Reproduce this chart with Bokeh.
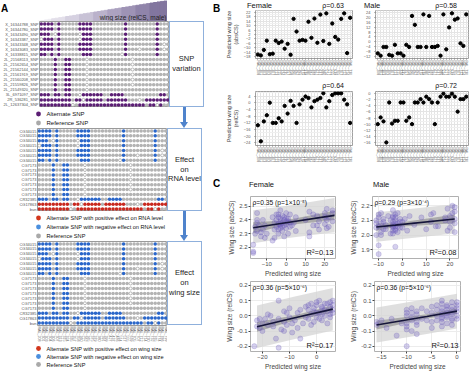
import math
from bokeh.plotting import figure
from bokeh.models import (Range1d, FactorRange, FixedTicker, Label, Div, Spacer,
                          NumeralTickFormatter, ColumnDataSource)
from bokeh.layouts import row, column
from bokeh.transform import linear_cmap
from bokeh.embed import file_html
from bokeh.resources import INLINE

FONT = "Liberation Sans"
CSSFONT = "font-family:'Liberation Sans',Arial,sans-serif;"

# ---------------- Panel A data ----------------
line_ids = ["208", "301", "303", "304", "306", "307", "313", "315", "324", "335",
            "357", "358", "360", "362", "365", "375", "379", "380", "391", "399",
            "427", "437", "486", "514", "517", "555", "639", "705", "707", "712",
            "714", "730", "732", "765", "774", "786", "799"]
snp_names = ["X_16344788_SNP", "X_16344780_SNP", "X_16343490_SNP", "X_16343387_SNP",
             "X_16343348_SNP", "X_16343083_SNP", "X_16338815_SNP", "2L_21568113_SNP",
             "2L_21562654_SNP", "2L_21562144_SNP", "2L_21561919_SNP", "2L_21560208_SNP",
             "2L_21559826_SNP", "2L_21549320_SNP", "3L_6971097_SNP", "2R_536281_SNP",
             "2L_12637304_SNP"]
gene_names = ["CG34015", "CG34015", "CG34015", "CG34015", "CG34015", "CG34015", "CG34015",
              "CG7173", "CG7173", "CG7173", "CG7173", "CG7173", "CG7173", "CG7173",
              "CR32385", "CG17863", "bun"]
# 1 = alternate allele, 0 = reference allele, 2 = missing
genotypes = [
    "1111010000" "0111100000" "0000100000" "0001000",
    "1111010000" "0111100000" "0000100000" "0001000",
    "1110210000" "0211100000" "0000100000" "0001000",
    "2111010000" "0211100000" "0000100000" "0001000",
    "1111010000" "0111100000" "0000100000" "0001020",
    "1111010000" "0111100000" "0000100020" "0001020",
    "1101010000" "0011100000" "0002100000" "0001000",
    "0000100110" "0002000000" "0000002000" "0000000",
    "0000100110" "0002000000" "0000002000" "0000000",
    "0000100110" "0002000000" "0000002000" "0000000",
    "0000100110" "0002000000" "0000002000" "0000000",
    "0000100110" "0002000000" "0000002000" "0000000",
    "0000100110" "0002000000" "0000002000" "0000000",
    "0000100110" "0002000000" "0000000000" "0000000",
    "1110110110" "0211111100" "1111000000" "0000110",
    "1111111110" "1121111101" "1111100020" "1111111",
    "1111111112" "0111111111" "1111111111" "0112100",
]
snp_effect = ["alt"] * 17
rna_effect = ["neg", "neg", "neg", "neg", "neg", "neg", "neg",
              "neg", "neg", "neg", "neg", "neg", "neg", "neg",
              "neg", "pos", "pos"]
wing_effect = ["neg"] * 17
wedge_vals = [-0.160, -0.152, -0.145, -0.138, -0.131, -0.124, -0.117, -0.110, -0.103, -0.096,
              -0.089, -0.082, -0.075, -0.068, -0.061, -0.054, -0.047, -0.040, -0.033, -0.026,
              -0.019, -0.012, -0.005, 0.002, 0.009, 0.016, 0.023, 0.030, 0.037, 0.044,
              0.051, 0.058, 0.065, 0.072, 0.079, 0.086, 0.093]
wedge_palette = ["#efedf3", "#e3dfea", "#d6d1e1", "#c8c2d6", "#bab2cb",
                 "#aca2c0", "#9e93b5", "#9084aa", "#82769f"]

legend1_labels = ["Alternate SNP", "Reference SNP"]
legend1_colors = ["#5b1e74", "#a9a9a9"]
legend2_labels = ["Alternate SNP with positive effect on RNA level",
                  "Alternate SNP with negative effect on RNA level", "Reference SNP"]
legend3_labels = ["Alternate SNP with positive effect on wing size",
                  "Alternate SNP with negative effect on wing size", "Reference SNP"]
legend23_colors = ["#d2361c", "#4b8fde", "#a9a9a9"]

# ---------------- Panel B data ----------------
b_lines = ["208", "301", "303", "304", "306", "307", "313", "315", "324", "335",
           "357", "358", "360", "362", "365", "375", "379", "380", "391", "399",
           "427", "437", "486", "514", "517", "555", "639", "705", "707", "712",
           "714", "730"]
pred_abs_f = [-16.2, -17.0, -12.0, -3.6, -15.9, -15.4, -3.6, -5.7, -4.4, -10.9,
              -6.5, -16.4, 16.2, 4.7, -3.6, -2.9, -3.6, 13.6, -1.0, 16.5,
              -5.5, 20.1, -3.9, 21.2, -6.5, 12.0, -0.2, -2.6, 16.2, 21.2, -14.9, 17.2]
pred_abs_m = [-9.4, -11.3, -4.2, -4.2, -10.6, -11.3, -2.4, -9.4, -9.4, -11.3,
              -2.4, -4.2, 21.2, 13.9, -4.2, -4.2, 22.4, -4.2, 21.2, -4.2,
              -4.2, -3.3, -11.3, 22.4, -6.1, 11.8, 23.3, 18.1, 19.1, -1.2, -3.3, 22.4]
pred_rel_f = [-13.4, -23.0, -11.1, -7.4, 0.1, -12.0, -12.0, -9.2, -11.1, -1.8,
              -6.4, 1.2, -1.8, -12.0, -0.9, 1.9, 3.8, 2.9, -2.7, 1.0,
              1.9, 2.9, 5.7, -2.7, 1.0, 4.7, 5.7, 5.7, 5.7, 1.9, -0.9, -12.0]
pred_rel_m = [-10.0, -7.8, -9.1, -16.0, -2.9, -9.8, -8.9, -8.9, -2.9, -2.9,
              -8.9, -7.8, -10.0, -2.9, -2.9, -1.8, -2.9, -1.0, -1.8, -2.9,
              -10.0, -2.9, -1.0, 0.0, -1.0, -1.0, 0.0, -1.0, -5.9, -1.8, -1.8, -1.0]

# ---------------- Panel C data ----------------
c_abs_f_x = [-17, -17, -16, -16, -15, -15, -15, -13, -12, -12, -11, -10, -7, -7, -6, -6, -5, -5,
             -4, -4, -4, -3, -3, -3, -3, -2, -2, -1, -1, -1, 0, 0, 0, 1, 1, 2, 2, 3, 5, 5,
             10, 12, 12, 14, 16, 17, 17, 20, 20, 21, 21, 22, 22, 24, 24,
             -17, -15, -14, -13, -11, -6, -5, -4, -4, -3, -3, -2, -2, -1, 0, 0, 1, 2, 4,
             12, 14, 16, 20, 21, 24]
c_abs_f_y = [2.16, 2.17, 2.35, 2.30, 2.38, 2.45, 2.32, 2.28, 2.40, 2.33, 2.36, 2.30, 2.42, 2.25,
             2.38, 2.27, 2.35, 2.40, 2.44, 2.37, 2.33, 2.39, 2.41, 2.36, 2.47, 2.38, 2.35, 2.40,
             2.42, 2.28, 2.37, 2.39, 2.34, 2.41, 2.30, 2.38, 2.44, 2.36, 2.32, 2.42, 2.40, 2.28,
             2.46, 2.36, 2.43, 2.39, 2.33, 2.45, 2.37, 2.40, 2.48, 2.35, 2.42, 2.47, 2.39,
             2.22, 2.40, 2.36, 2.31, 2.27, 2.33, 2.44, 2.30, 2.42, 2.34, 2.37, 2.43, 2.32,
             2.36, 2.45, 2.41, 2.39, 2.35, 2.38, 2.31, 2.44, 2.36, 2.42, 2.34, 2.45]
c_abs_m_x = [-11, -11, -11, -10, -10, -10, -10, -9, -9, -9, -8, -8, -7, -6, -5, -4, -4, -4, -4,
             -4, -4, -3, -3, -3, -3, -3, -2, -2, -1, -1, 0, 2, 3, 5, 8, 10, 12, 13, 15, 18, 19,
             20, 20, 21, 22, 22, 22,
             -11, -10, -9, -8, -7, -5, -4, -4, -4, -3, -3, -3, -2, -2, -1, 0, 1, 12, 14, 18,
             20, 21, 22, 22, 19]
c_abs_m_y = [2.05, 2.10, 2.00, 1.87, 1.93, 2.06, 2.12, 2.02, 2.08, 2.15, 2.04, 2.11, 2.07, 2.13,
             2.01, 2.05, 2.09, 2.12, 2.03, 2.17, 2.07, 1.92, 2.04, 2.10, 2.14, 2.06, 2.08, 2.02,
             2.11, 2.05, 2.09, 2.03, 2.13, 2.07, 2.12, 2.04, 2.09, 2.15, 2.06, 2.10, 2.18, 2.05,
             2.13, 2.20, 2.08, 2.16, 2.02,
             2.08, 2.14, 2.00, 2.09, 2.04, 2.10, 2.06, 2.13, 2.01, 2.08, 2.12, 2.03, 2.15,
             2.06, 2.09, 2.05, 2.11, 2.14, 2.06, 2.12, 2.09, 2.15, 2.11, 2.19, 2.03]
c_rel_f_x = [-23, -22, -22, -21, -20, -19, -18, -17, -16, -15, -14, -14, -13, -12, -12, -11,
             -10, -10, -9, -8, -7, -6, -5, -4, -3, -3, -2, -2, -1, -1, 0, 0, 1, 1, 2, 2, 3, 3,
             4, 4, 5, 5, 6, 6,
             -21, -20, -18, -16, -14, -12, -11, -9, -7, -6, -4, -3, -2, -1, 0, 0, 1, 2, 2, 3,
             4, 5, 5, 6, 6]
c_rel_f_y = [-0.20, -0.07, -0.03, -0.08, -0.05, -0.02, -0.06, 0.00, -0.04, -0.15, -0.21, 0.10,
             -0.09, -0.04, 0.03, -0.06, -0.01, 0.05, -0.11, -0.03, 0.02, -0.15, -0.05, 0.06,
             -0.02, 0.04, 0.01, 0.08, -0.04, 0.03, 0.07, -0.01, 0.02, 0.10, -0.03, 0.05, 0.00,
             0.08, 0.03, -0.05, 0.06, 0.01, 0.10, 0.04,
             -0.02, -0.10, 0.01, -0.07, -0.02, -0.10, 0.02, -0.05, -0.08, 0.04, -0.01, 0.07,
             -0.06, 0.05, 0.02, 0.09, -0.02, 0.06, 0.01, 0.04, 0.08, -0.01, 0.09, 0.02, 0.07]
c_rel_m_x = [-16, -16, -13, -12, -10, -10, -10, -10, -10, -9, -9, -9, -9, -8, -8, -8, -7, -6,
             -5, -5, -5, -4, -4, -3, -3, -3, -3, -3, -3, -2, -2, -2, -2, -1, -1, -1, -1, -1,
             0, 0, 0,
             -15, -14, -11, -10, -10, -9, -8, -8, -7, -6, -5, -4, -4, -3, -3, -3, -2, -2, -2,
             -1, -1, -1, 0, 0, 0]
c_rel_m_y = [-0.06, -0.04, -0.02, -0.13, -0.20, -0.05, 0.00, 0.04, -0.09, -0.03, 0.02, -0.10,
             0.05, -0.06, 0.01, -0.12, -0.02, 0.03, -0.04, 0.06, -0.08, 0.00, 0.07, -0.07,
             -0.02, 0.03, 0.08, -0.04, 0.01, -0.05, 0.02, 0.06, -0.01, -0.03, 0.04, 0.09, 0.01,
             -0.06, 0.03, 0.07, -0.02,
             -0.03, -0.08, -0.05, -0.07, 0.02, -0.01, -0.04, 0.03, 0.05, -0.03, 0.02, -0.03,
             0.04, -0.01, 0.05, 0.10, 0.00, 0.04, 0.07, 0.06, -0.02, 0.02, 0.00, 0.05, 0.09]

fit_abs_f = dict(x=[-17, -1, 25], y=[2.343, 2.378, 2.433], ci_lo=[2.303, 2.360, 2.400],
                 ci_hi=[2.383, 2.396, 2.466], pi_lo=[2.23, 2.265, 2.31], pi_hi=[2.47, 2.50, 2.56])
fit_abs_m = dict(x=[-11, -3, 22], y=[2.055, 2.068, 2.11], ci_lo=[2.030, 2.055, 2.080],
                 ci_hi=[2.080, 2.081, 2.140], pi_lo=[1.955, 1.968, 2.010], pi_hi=[2.155, 2.168, 2.210])
fit_rel_f = dict(x=[-22, -8, 6], y=[-0.072, -0.013, 0.044], ci_lo=[-0.105, -0.030, 0.020],
                 ci_hi=[-0.040, 0.004, 0.068], pi_lo=[-0.212, -0.153, -0.096], pi_hi=[0.068, 0.127, 0.184])
fit_rel_m = dict(x=[-16, -6, 0], y=[-0.061, -0.004, 0.031], ci_lo=[-0.090, -0.018, 0.013],
                 ci_hi=[-0.032, 0.011, 0.050], pi_lo=[-0.176, -0.119, -0.084], pi_hi=[0.054, 0.111, 0.146])

COL = {"alt": "#5b1e74", "pos": "#c8281e", "neg": "#2a66c9", "ref": "#b3b3b3"}


def label(p, text, x, y, size, align="left", baseline="bottom", color="#111111"):
    p.add_layout(Label(x=x, y=y, x_units="screen", y_units="screen", text=text,
                       text_font=FONT, text_font_size=size, text_align=align,
                       text_baseline=baseline, text_color=color))


def text_band(width, height, items):
    spans = []
    for t, x, y, size, anchor in items:
        side = "left" if anchor == "left" else "right"
        pos = x if anchor == "left" else width - x
        spans.append('<span style="position:absolute;%s:%spx;top:%spx;font-size:%s;'
                     'line-height:1;white-space:nowrap;color:#111">%s</span>' % (side, pos, y, size, t))
    html = ('<div style="position:relative;width:%dpx;height:%dpx;%s">%s</div>'
            % (width, height, CSSFONT, "".join(spans)))
    return Div(text=html, width=width, height=height, margin=0)


# ---------------- Panel A figures ----------------
def header_fig():
    p = figure(frame_width=130, frame_height=21, min_border_left=0, min_border_right=0,
               min_border_top=0, min_border_bottom=0,
               x_range=Range1d(-0.5, len(line_ids) - 0.5), y_range=Range1d(-0.165, 0.097),
               x_axis_location=None, y_axis_location=None,
               output_backend="svg", toolbar_location=None)
    p.grid.visible = False
    p.outline_line_color = None
    src = ColumnDataSource(dict(x=list(range(len(wedge_vals))), top=wedge_vals))
    cmap = linear_cmap("top", wedge_palette, min(wedge_vals), max(wedge_vals))
    p.vbar(x="x", top="top", bottom=-0.165, width=1.0, source=src,
           fill_color=cmap, line_color=cmap)
    label(p, "wing size (relCS, male)", 129, 1, "6.5px", align="right", color="#222222")
    return p


def matrix_fig(row_labels, effects, frame_h, bottom_axis=False):
    p = figure(frame_width=130, frame_height=frame_h, min_border_left=37, min_border_right=0,
               min_border_top=0, min_border_bottom=0,
               x_range=Range1d(-0.5, len(line_ids) - 0.5),
               y_range=Range1d(len(row_labels) - 0.5, -0.5),
               x_axis_location="below" if bottom_axis else None,
               output_backend="svg", toolbar_location=None)
    p.grid.visible = False
    p.outline_line_color = "#9a9a9a"
    p.yaxis.ticker = FixedTicker(ticks=list(range(len(row_labels))))
    p.yaxis.major_label_overrides = {i: t for i, t in enumerate(row_labels)}
    p.yaxis.axis_line_color = None
    p.yaxis.major_tick_line_color = None
    p.yaxis.major_tick_out = 0
    p.yaxis.minor_tick_line_color = None
    p.yaxis.major_label_standoff = 1
    p.yaxis.major_label_text_font = FONT
    p.yaxis.major_label_text_font_size = "4px"
    p.yaxis.major_label_text_color = "#555555"
    if bottom_axis:
        p.xaxis.ticker = FixedTicker(ticks=list(range(len(line_ids))))
        p.xaxis.major_label_overrides = {i: "RAL_" + t for i, t in enumerate(line_ids)}
        p.xaxis.major_label_orientation = "vertical"
        p.xaxis.axis_line_color = None
        p.xaxis.major_tick_line_color = None
        p.xaxis.major_tick_out = 0
        p.xaxis.minor_tick_line_color = None
        p.xaxis.major_label_standoff = 1
        p.xaxis.major_label_text_font = FONT
        p.xaxis.major_label_text_font_size = "3.6px"
        p.xaxis.major_label_text_color = "#666666"
    data = {k: {"x": [], "y": []} for k in ("alt", "pos", "neg", "ref", "na")}
    for r, g in enumerate(genotypes):
        for c, ch in enumerate(g[:len(line_ids)]):
            key = effects[r] if ch == "1" else ("ref" if ch == "0" else "na")
            data[key]["x"].append(c)
            data[key]["y"].append(r)
    for k in ("ref", "alt", "pos", "neg"):
        if data[k]["x"]:
            p.scatter(x=data[k]["x"], y=data[k]["y"], size=3.5,
                      fill_color=COL[k], line_color=None)
    p.scatter(x=data["na"]["x"], y=data["na"]["y"], size=3.0,
              fill_color="white", line_color="#9a9a9a", line_width=0.7)
    return p


def legend_fig(labels, colors, frame_h, mbt, mbb, font):
    p = figure(width=178, frame_height=frame_h, min_border_left=34, min_border_right=136,
               min_border_top=mbt, min_border_bottom=mbb,
               x_range=Range1d(-1, 1), y_range=FactorRange(factors=labels[::-1], range_padding=0),
               x_axis_location=None, y_axis_location="right",
               output_backend="svg", toolbar_location=None)
    p.grid.visible = False
    p.outline_line_color = None
    p.yaxis.axis_line_color = None
    p.yaxis.major_tick_line_color = None
    p.yaxis.major_tick_out = 0
    p.yaxis.major_label_standoff = 4
    p.yaxis.major_label_text_font = FONT
    p.yaxis.major_label_text_font_size = font
    p.yaxis.major_label_text_color = "#111111"
    p.scatter(x=[0] * len(labels), y=labels, size=4.8, fill_color=colors, line_color=None)
    return p


def box_div(text, h):
    html = ('<div style="box-sizing:border-box;width:35px;height:%dpx;border:1px solid #8fb0dc;'
            'display:flex;align-items:center;justify-content:center;text-align:center;%s'
            'font-size:7.5px;line-height:1.3;color:#222">%s</div>' % (h, CSSFONT, text))
    return Div(text=html, width=35, height=h, margin=0)


def arrow_div(h):
    html = ('<div style="position:relative;width:24px;height:%dpx">'
            '<div style="position:absolute;left:5px;top:0;width:3px;height:%dpx;background:#4f83cc"></div>'
            '<div style="position:absolute;left:2px;top:%dpx;width:0;height:0;'
            'border-left:4.5px solid transparent;border-right:4.5px solid transparent;'
            'border-top:6px solid #4f83cc"></div></div>' % (h, h - 5, h - 6))
    return Div(text=html, width=24, height=h, margin=0)


letter_a = Div(text='<div style="%sfont-weight:bold;font-size:10px;line-height:10px;padding-left:1px">A</div>'
               % CSSFONT, width=37, height=21, margin=0)

m1 = matrix_fig(snp_names, snp_effect, 86)
m2 = matrix_fig(gene_names, rna_effect, 83)
m3 = matrix_fig(gene_names, wing_effect, 84, bottom_axis=True)
l1 = legend_fig(legend1_labels, legend1_colors, 18, 2, 1, "6px")
l2 = legend_fig(legend2_labels, legend23_colors, 27, 2, 1, "5.6px")
l3 = legend_fig(legend3_labels, legend23_colors, 24, 0, 0, "5.6px")

colA = column(
    row(letter_a, header_fig(), Spacer(width=43, height=21, margin=0)),
    row(m1, box_div("SNP<br>variation", 86)),
    row(l1, arrow_div(21)),
    row(m2, box_div("Effect<br>on<br>RNA level", 83)),
    row(l2, arrow_div(30)),
    row(m3, box_div("Effect<br>on<br>wing size", 84)),
    l3,
)


# ---------------- Panel B figures ----------------
def b_fig(vals, yr, ticks, fw, fh, mbl, mbr, mbt, mbb, ylabel=None):
    p = figure(frame_width=fw, frame_height=fh, min_border_left=mbl, min_border_right=mbr,
               min_border_top=mbt, min_border_bottom=mbb,
               x_range=Range1d(-0.8, len(vals) - 0.2), y_range=Range1d(*yr),
               output_backend="svg", toolbar_location=None)
    p.outline_line_color = "#a0a0a0"
    step = ticks[1] - ticks[0]
    p.yaxis.ticker = FixedTicker(ticks=ticks, minor_ticks=[t + step / 2 for t in ticks])
    p.xaxis.ticker = FixedTicker(ticks=list(range(len(vals))))
    p.xaxis.major_label_overrides = {i: "RAL_" + b_lines[i] for i in range(len(vals))}
    p.xaxis.major_label_orientation = "vertical"
    for ax in (p.xaxis[0], p.yaxis[0]):
        ax.axis_line_color = None
        ax.major_tick_line_color = "#777777"
        ax.major_tick_in = 0
        ax.major_tick_out = 1
        ax.minor_tick_line_color = None
        ax.major_label_standoff = 1
        ax.major_label_text_font = FONT
        ax.major_label_text_color = "#555555"
    p.xaxis.major_label_text_font_size = "3.5px"
    p.yaxis.major_label_text_font_size = "4px"
    p.xgrid.grid_line_color = "#e4e4e4"
    p.ygrid.grid_line_color = "#e4e4e4"
    p.ygrid.minor_grid_line_color = "#efefef"
    if ylabel:
        p.yaxis.axis_label = ylabel
        p.yaxis.axis_label_text_font = FONT
        p.yaxis.axis_label_text_font_size = "5.5px"
        p.yaxis.axis_label_text_font_style = "normal"
        p.yaxis.axis_label_standoff = 2
    p.scatter(x=list(range(len(vals))), y=vals, size=3.3, color="black")
    return p


bfa = b_fig(pred_abs_f, (-19.8, 23.8), [-18, -14, -10, -6, -2, 2, 6, 10, 14, 18, 22],
            97, 48, 25, 8, 0, 18, "Predicted wing size\n(absCS)")
bma = b_fig(pred_abs_m, (-13.6, 25.6), [-12, -8, -4, 0, 4, 8, 12, 16, 20, 24],
            93, 48, 12, 1, 0, 18)
bfr = b_fig(pred_rel_f, (-25.5, 6.8), [-24, -20, -16, -12, -8, -4, 0, 4],
            97, 54, 25, 8, 0, 19, "Predicted wing size\n(relCS)")
bmr = b_fig(pred_rel_m, (-17.0, 0.7), [-16, -14, -12, -10, -8, -6, -4, -2, 0],
            93, 54, 12, 1, 0, 19)


# ---------------- Panel C figures ----------------
def c_fig(xs, ys, fit, xr, yr, xt, yt, rho, r2, fw, fh, mbl, mbr, mbt, mbb, ylabel):
    p = figure(frame_width=fw, frame_height=fh, min_border_left=mbl, min_border_right=mbr,
               min_border_top=mbt, min_border_bottom=mbb,
               x_range=Range1d(*xr), y_range=Range1d(*yr),
               output_backend="svg", toolbar_location=None)
    p.outline_line_color = "#b0b0b0"
    p.xaxis.ticker = FixedTicker(ticks=xt)
    p.yaxis.ticker = FixedTicker(ticks=yt)
    p.yaxis.formatter = NumeralTickFormatter(format="0.0")
    for ax in (p.xaxis[0], p.yaxis[0]):
        ax.axis_line_color = None
        ax.major_tick_line_color = "#444444"
        ax.major_tick_in = 0
        ax.major_tick_out = 2
        ax.minor_tick_line_color = None
        ax.major_label_standoff = 1
        ax.major_label_text_font = FONT
        ax.major_label_text_font_size = "6px"
        ax.major_label_text_color = "#4d4d4d"
        ax.axis_label_text_font = FONT
        ax.axis_label_text_font_size = "6.5px"
        ax.axis_label_text_font_style = "normal"
        ax.axis_label_standoff = 1
    p.xaxis.axis_label = "Predicted wing size"
    p.yaxis.axis_label = ylabel
    p.xgrid.grid_line_color = "#ececec"
    p.ygrid.grid_line_color = "#ececec"
    src = ColumnDataSource(fit)
    p.varea(x="x", y1="pi_lo", y2="pi_hi", source=src, fill_color="#d4d4d4", fill_alpha=0.75)
    p.varea(x="x", y1="ci_lo", y2="ci_hi", source=src, fill_color="#9a9a9a", fill_alpha=0.75)
    n = min(len(xs), len(ys))
    p.scatter(x=xs[:n], y=ys[:n], size=5.2, fill_color="#7563c6", fill_alpha=0.3,
              line_color="#5a4aa8", line_alpha=0.3, line_width=0.6)
    p.line(x="x", y="y", source=src, line_color="#15153a", line_width=1.6)
    label(p, rho, 2, fh - 2, "6.7px", baseline="top")
    label(p, r2, fw - 2, 2, "7.5px", align="right")
    return p


cfa = c_fig(c_abs_f_x, c_abs_f_y, fit_abs_f, (-18.4, 25.5), (2.12, 2.57), [-10, 0, 10, 20],
            [2.2, 2.3, 2.4, 2.5], "\u03c1=0.35 (p=1\u00d710\u207b\u2075)", "R\u00b2=0.13",
            85, 62, 28, 12, 0, 20, "Wing size (absCS)")
cma = c_fig(c_abs_m_x, c_abs_m_y, fit_abs_m, (-12.6, 23.6), (1.84, 2.263), [-10, 0, 10, 20],
            [1.9, 2.0, 2.1, 2.2], "\u03c1=0.29 (p=3\u00d710\u207b\u2074)", "R\u00b2=0.08",
            86, 62, 24, 1, 0, 20, "Wing size (absCS)")
cfr = c_fig(c_rel_f_x, c_rel_f_y, fit_rel_f, (-24.4, 7.0), (-0.235, 0.226), [-20, -10, 0],
            [-0.2, -0.1, 0.0, 0.1, 0.2], "\u03c1=0.36 (p=5\u00d710\u207b\u2076)", "R\u00b2=0.17",
            85, 70, 28, 12, 2, 20, "Wing size (relCS)")
cmr = c_fig(c_rel_m_x, c_rel_m_y, fit_rel_m, (-16.4, 0.7), (-0.235, 0.226), [-15, -10, -5, 0],
            [-0.2, -0.1, 0.0, 0.1, 0.2], "\u03c1=0.36 (p=5\u00d710\u207b\u2076)", "R\u00b2=0.13",
            86, 70, 24, 1, 2, 20, "Wing size (relCS)")

band_b1 = text_band(236, 10, [("Female", 25, 0, "7.5px", "left"),
                              ("\u03c1=0.63", 122, 0, "7px", "right"),
                              ("Male", 142, 0, "7.5px", "left"),
                              ("\u03c1=0.58", 235, 0, "7px", "right")])
band_b2 = text_band(236, 13, [("\u03c1=0.64", 122, 4, "7px", "right"),
                              ("\u03c1=0.72", 235, 4, "7px", "right")])
band_c = text_band(236, 31, [("Female", 27, 16, "7.5px", "left"),
                             ("Male", 151, 16, "7.5px", "left")])


def letter_div(t, h, top):
    html = ('<div style="%sfont-weight:bold;font-size:10px;padding-left:3px;padding-top:%dpx;'
            'line-height:10px">%s</div>' % (CSSFONT, top, t))
    return Div(text=html, width=12, height=h, margin=0)


strip = column(letter_div("B", 175, 0), letter_div("C", 192, 2))
colBC = column(band_b1, row(bfa, bma), band_b2, row(bfr, bmr), band_c, row(cfa, cma), row(cfr, cmr))

root = row(colA, strip, colBC)

with open("out.html", "w") as f:
    f.write(file_html(root, INLINE))
